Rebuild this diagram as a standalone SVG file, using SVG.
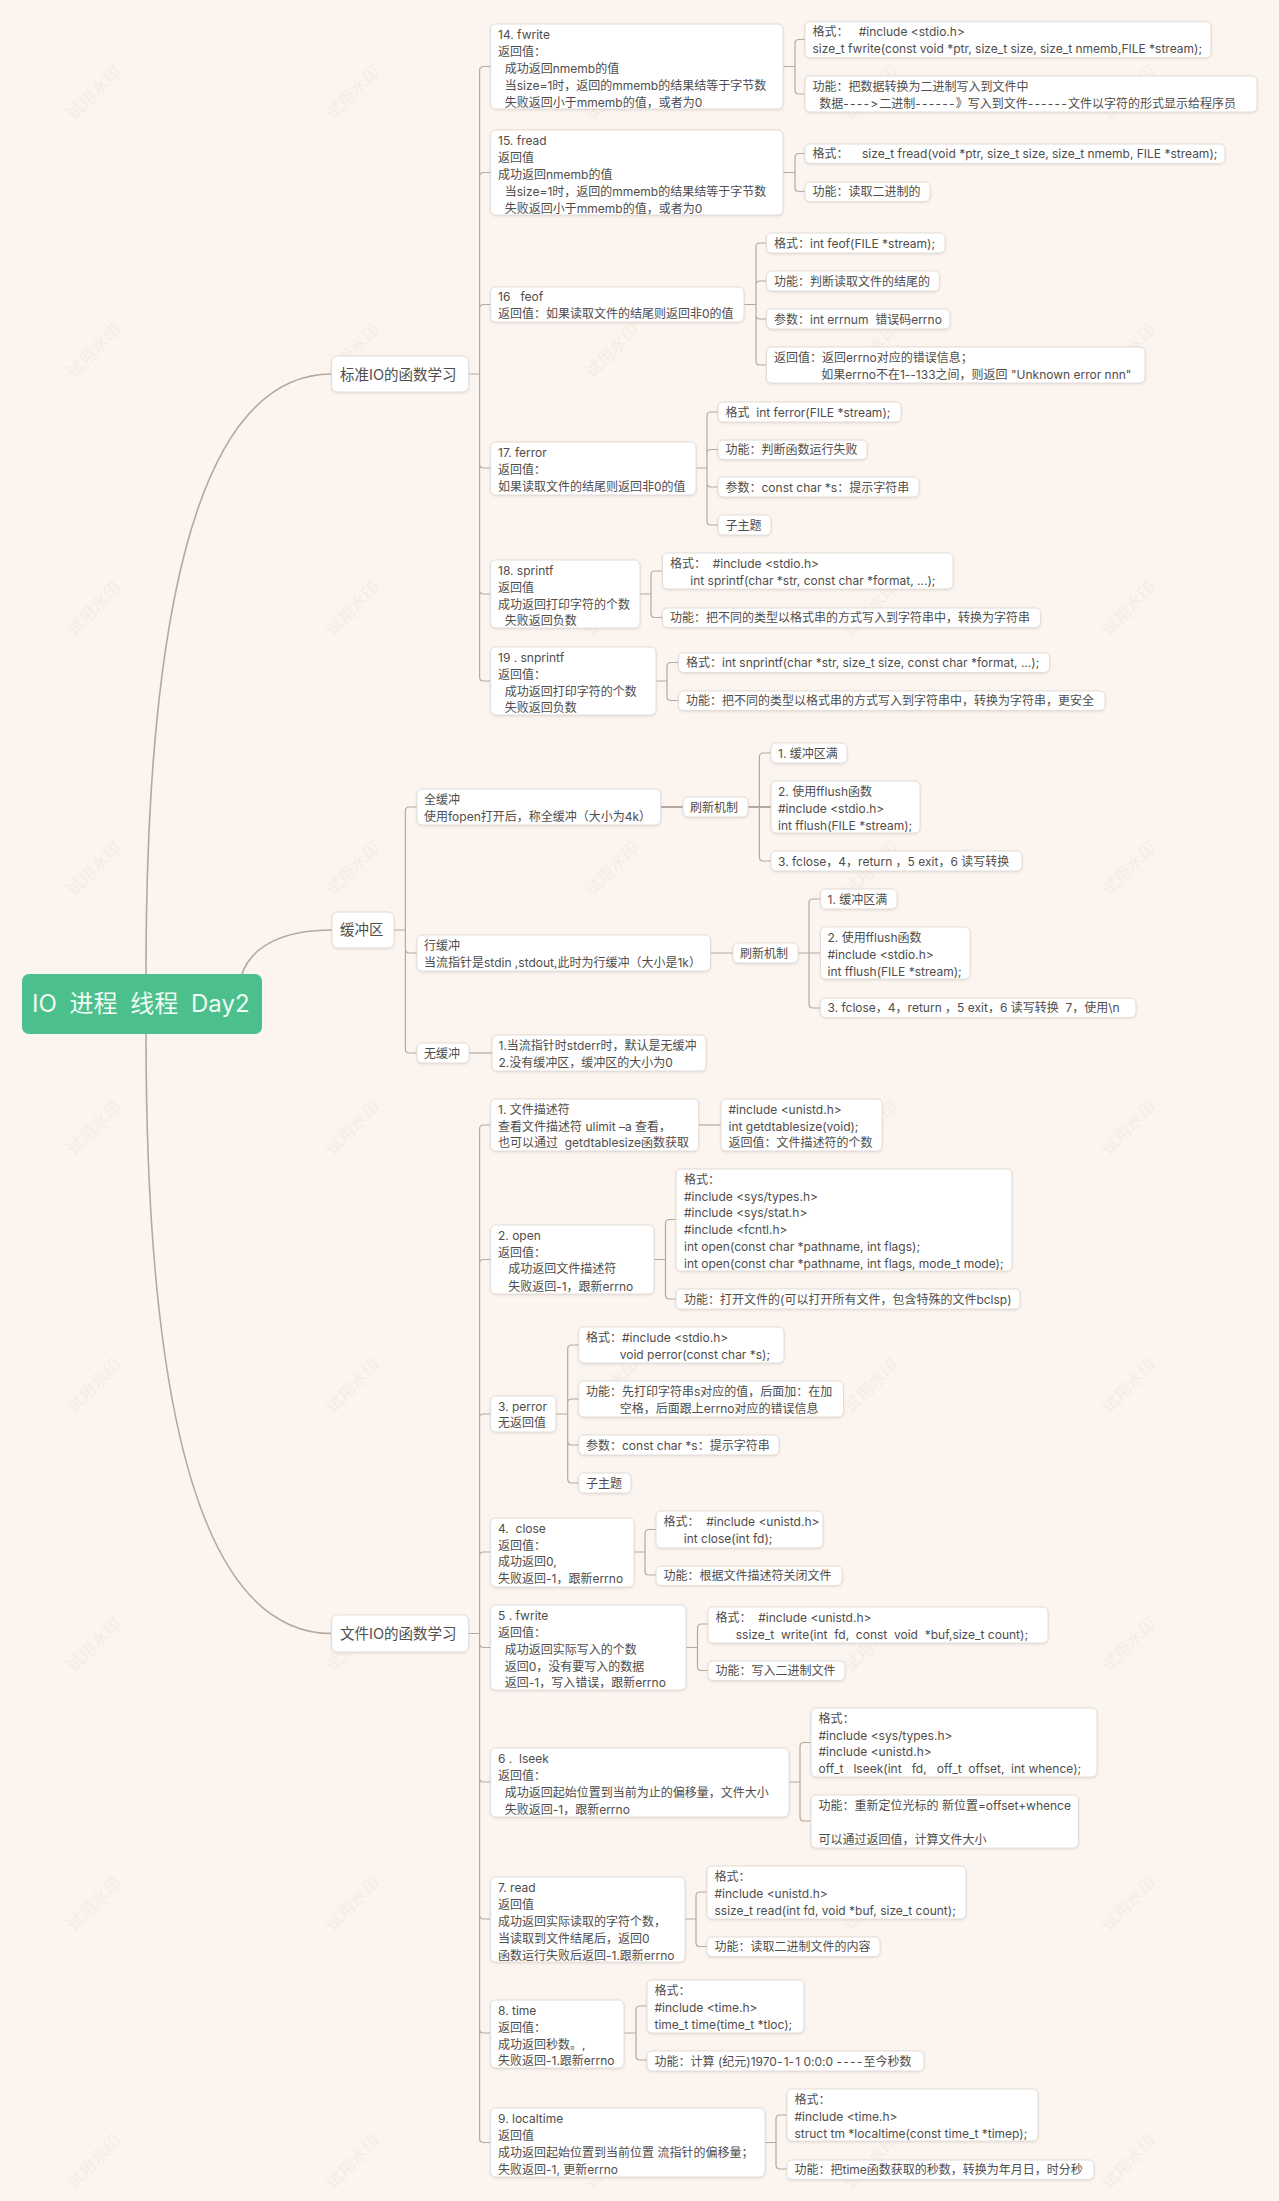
<svg xmlns="http://www.w3.org/2000/svg" width="1279" height="2201" viewBox="0 0 1279 2201">
<style>
text{font-family:Inter,"Noto Sans CJK SC",sans-serif;font-size:12px;fill:#504d4b;white-space:pre;font-variant-ligatures:none;font-feature-settings:"calt" 0,"liga" 0}
.n{fill:#fff;stroke:#e3dcd7;stroke-width:1;filter:drop-shadow(0 1px 1px rgba(90,70,60,.12))}
.t{font-size:14.5px}
.c{fill:none;stroke:#b3a9a2;stroke-width:1.2}
.w{font-size:17px;fill:#f5ece6;text-anchor:middle}
.d{letter-spacing:1.2px}
</style>
<rect width="1279" height="2201" fill="#fbf4ef"/>
<g id="watermarks">
<text class="w" transform="translate(98 97) rotate(-45)">试用水印</text><text class="w" transform="translate(357 97) rotate(-45)">试用水印</text><text class="w" transform="translate(616 97) rotate(-45)">试用水印</text><text class="w" transform="translate(875 97) rotate(-45)">试用水印</text><text class="w" transform="translate(1133 97) rotate(-45)">试用水印</text>
<text class="w" transform="translate(98 355) rotate(-45)">试用水印</text><text class="w" transform="translate(357 355) rotate(-45)">试用水印</text><text class="w" transform="translate(616 355) rotate(-45)">试用水印</text><text class="w" transform="translate(875 355) rotate(-45)">试用水印</text><text class="w" transform="translate(1133 355) rotate(-45)">试用水印</text>
<text class="w" transform="translate(98 613) rotate(-45)">试用水印</text><text class="w" transform="translate(357 613) rotate(-45)">试用水印</text><text class="w" transform="translate(616 613) rotate(-45)">试用水印</text><text class="w" transform="translate(875 613) rotate(-45)">试用水印</text><text class="w" transform="translate(1133 613) rotate(-45)">试用水印</text>
<text class="w" transform="translate(98 873) rotate(-45)">试用水印</text><text class="w" transform="translate(357 873) rotate(-45)">试用水印</text><text class="w" transform="translate(616 873) rotate(-45)">试用水印</text><text class="w" transform="translate(875 873) rotate(-45)">试用水印</text><text class="w" transform="translate(1133 873) rotate(-45)">试用水印</text>
<text class="w" transform="translate(98 1132) rotate(-45)">试用水印</text><text class="w" transform="translate(357 1132) rotate(-45)">试用水印</text><text class="w" transform="translate(616 1132) rotate(-45)">试用水印</text><text class="w" transform="translate(875 1132) rotate(-45)">试用水印</text><text class="w" transform="translate(1133 1132) rotate(-45)">试用水印</text>
<text class="w" transform="translate(98 1390) rotate(-45)">试用水印</text><text class="w" transform="translate(357 1390) rotate(-45)">试用水印</text><text class="w" transform="translate(616 1390) rotate(-45)">试用水印</text><text class="w" transform="translate(875 1390) rotate(-45)">试用水印</text><text class="w" transform="translate(1133 1390) rotate(-45)">试用水印</text>
<text class="w" transform="translate(98 1649) rotate(-45)">试用水印</text><text class="w" transform="translate(357 1649) rotate(-45)">试用水印</text><text class="w" transform="translate(616 1649) rotate(-45)">试用水印</text><text class="w" transform="translate(875 1649) rotate(-45)">试用水印</text><text class="w" transform="translate(1133 1649) rotate(-45)">试用水印</text>
<text class="w" transform="translate(98 1908) rotate(-45)">试用水印</text><text class="w" transform="translate(357 1908) rotate(-45)">试用水印</text><text class="w" transform="translate(616 1908) rotate(-45)">试用水印</text><text class="w" transform="translate(875 1908) rotate(-45)">试用水印</text><text class="w" transform="translate(1133 1908) rotate(-45)">试用水印</text>
<text class="w" transform="translate(98 2166) rotate(-45)">试用水印</text><text class="w" transform="translate(357 2166) rotate(-45)">试用水印</text><text class="w" transform="translate(616 2166) rotate(-45)">试用水印</text><text class="w" transform="translate(875 2166) rotate(-45)">试用水印</text><text class="w" transform="translate(1133 2166) rotate(-45)">试用水印</text>
</g>
<g id="connectors">
<path class="c" style="stroke-width:1.6" d="M146 974C146 640 190 374 332 374M146 1034C146 1370 190 1633.5 332 1633.5M242 974C252 945 285 930 332 930"/>
<path class="c" d="M468.6 374H479.6M479.6 374V70.5Q479.6 66.5 483.6 66.5H490.6M479.6 374V176.5Q479.6 172.5 483.6 172.5H490.6M479.6 374V308.5Q479.6 304.5 483.6 304.5H490.6M479.6 374V464Q479.6 468 483.6 468H490.6M479.6 374V590Q479.6 594 483.6 594H490.6M479.6 374V677Q479.6 681 483.6 681H490.6"/>
<path class="c" d="M783 66.5H795V43.5Q795 39.5 799 39.5H805M795 66.5V90Q795 94 799 94H805"/>
<path class="c" d="M783 172.5H795V157.5Q795 153.5 799 153.5H805M795 172.5V187.5Q795 191.5 799 191.5H805"/>
<path class="c" d="M744 304.5H756V247Q756 243 760 243H766.5M756 304.5V285Q756 281 760 281H766.5M756 304.5V315Q756 319 760 319H766.5M756 304.5V361Q756 365 760 365H766.5"/>
<path class="c" d="M696 468H707V416Q707 412 711 412H718M707 468V453.5Q707 449.5 711 449.5H718M707 468V483Q707 487 711 487H718M707 468V521Q707 525 711 525H718"/>
<path class="c" d="M640 594H651V575Q651 571 655 571H662.5M651 594V613.5Q651 617.5 655 617.5H662.5"/>
<path class="c" d="M656 681H667V666.5Q667 662.5 671 662.5H678.4M667 681V696.5Q667 700.5 671 700.5H678.4"/>
<path class="c" d="M394 930H405.4V811Q405.4 807 409.4 807H417M405.4 930V949Q405.4 953 409.4 953H417M405.4 930V1049Q405.4 1053 409.4 1053H417"/>
<path class="c" style="stroke-width:1.8" d="M660.7 807H683M748 807H771"/>
<path class="c" d="M759.4 807V757Q759.4 753 763.4 753H771M759.4 807V857Q759.4 861 763.4 861H771"/>
<path class="c" d="M710.5 953H733M798 953H820.5"/>
<path class="c" d="M809 953V903Q809 899 813 899H820.5M809 953V1004Q809 1008 813 1008H820.5"/>
<path class="c" d="M469 1053H492"/>
<path class="c" d="M468.6 1633.5H479.6M479.6 1633.5V1129Q479.6 1125 483.6 1125H490.6M479.6 1633.5V1263.5Q479.6 1259.5 483.6 1259.5H490.6M479.6 1633.5V1418Q479.6 1414 483.6 1414H490.6M479.6 1633.5V1556Q479.6 1552 483.6 1552H490.6M479.6 1633.5V1643.5Q479.6 1647.5 483.6 1647.5H490.6M479.6 1633.5V1778Q479.6 1782 483.6 1782H490.6M479.6 1633.5V1915Q479.6 1919 483.6 1919H490.6M479.6 1633.5V2029Q479.6 2033 483.6 2033H490.6M479.6 1633.5V2138.5Q479.6 2142.5 483.6 2142.5H490.6"/>
<path class="c" d="M698.6 1125H721"/>
<path class="c" d="M654 1259.5H665.5V1223.5Q665.5 1219.5 669.5 1219.5H676M665.5 1259.5V1295Q665.5 1299 669.5 1299H676"/>
<path class="c" d="M556 1414H567.7V1349Q567.7 1345 571.7 1345H578.7M567.7 1414V1403Q567.7 1399 571.7 1399H578.7M567.7 1414V1441Q567.7 1445 571.7 1445H578.7M567.7 1414V1479Q567.7 1483 571.7 1483H578.7"/>
<path class="c" d="M634 1552H645V1533.5Q645 1529.5 649 1529.5H656M645 1552V1571Q645 1575 649 1575H656"/>
<path class="c" d="M686 1647.5H697.5V1628Q697.5 1624 701.5 1624H708M697.5 1647.5V1666.5Q697.5 1670.5 701.5 1670.5H708"/>
<path class="c" d="M789 1782H800V1746.5Q800 1742.5 804 1742.5H811M800 1782V1817Q800 1821 804 1821H811"/>
<path class="c" d="M685 1919H696V1896Q696 1892 700 1892H707M696 1919V1942.5Q696 1946.5 700 1946.5H707"/>
<path class="c" d="M624 2033H636V2010Q636 2006 640 2006H647M636 2033V2056Q636 2060 640 2060H647"/>
<path class="c" d="M765 2142.5H776V2119Q776 2115 780 2115H787M776 2142.5V2165Q776 2169 780 2169H787"/>
</g>
<g id="root"><rect x="22" y="974" width="240" height="60" rx="7" fill="#4cc08c"/><text x="32" y="1011.5" style="font-size:24px;fill:#eefbf4;word-spacing:6px">IO 进程 线程 Day2</text></g>
<g id="t1"><rect class="n" x="331.6" y="356" width="137" height="36" rx="6"/><text class="t" x="340" y="379.5">标准IO的函数学习</text></g>
<g id="t2"><rect class="n" x="332" y="912" width="62" height="36" rx="6"/><text class="t" x="340" y="935">缓冲区</text></g>
<g id="t3"><rect class="n" x="331.6" y="1615" width="137" height="37" rx="6"/><text class="t" x="340" y="1639">文件IO的函数学习</text></g>

<g id="n14"><rect class="n" x="490.6" y="24" width="292.4" height="85" rx="5"/><text x="498" y="38.5">14. fwrite</text><text x="498" y="55.5">返回值：</text><text x="498" y="72.5">  成功返回nmemb的值</text><text x="498" y="89.5">  当size=1时，返回的mmemb的结果结等于字节数</text><text x="498" y="106.5">  失败返回小于mmemb的值，或者为0</text></g>
<g id="n14a"><rect class="n" x="805" y="21.7" width="406" height="36" rx="5"/><text x="812.5" y="36">格式：   #include &lt;stdio.h&gt;</text><text x="812.5" y="53">size_t fwrite(const void *ptr, size_t size, size_t nmemb,FILE *stream);</text></g>
<g id="n14b"><rect class="n" x="805" y="76" width="452" height="36" rx="5"/><text x="812.5" y="90.5">功能：把数据转换为二进制写入到文件中</text><text x="812.5" y="107.5">  数据<tspan class="d">----&gt;</tspan>二进制<tspan class="d">------</tspan>》写入到文件<tspan class="d">------</tspan>文件以字符的形式显示给程序员</text></g>
<g id="n15"><rect class="n" x="490.6" y="130" width="292.4" height="85" rx="5"/><text x="498" y="144.5">15. fread</text><text x="498" y="161.5">返回值</text><text x="498" y="178.5">成功返回nmemb的值</text><text x="498" y="195.5">  当size=1时，返回的mmemb的结果结等于字节数</text><text x="498" y="212.5">  失败返回小于mmemb的值，或者为0</text></g>
<g id="n15a"><rect class="n" x="805" y="144" width="420" height="19.5" rx="5"/><text x="812.5" y="158">格式：    size_t fread(void *ptr, size_t size, size_t nmemb, FILE *stream);</text></g>
<g id="n15b"><rect class="n" x="805" y="182" width="125" height="19.5" rx="5"/><text x="812.5" y="196">功能：读取二进制的</text></g>
<g id="n16"><rect class="n" x="490.6" y="287" width="253.4" height="35" rx="5"/><text x="498" y="301">16   feof</text><text x="498" y="318">返回值：如果读取文件的结尾则返回非0的值</text></g>
<g id="n16a"><rect class="n" x="766.5" y="233" width="178.5" height="20" rx="5"/><text x="774" y="247.5">格式：int feof(FILE *stream);</text></g>
<g id="n16b"><rect class="n" x="766.5" y="271" width="173" height="20" rx="5"/><text x="774" y="285.5">功能：判断读取文件的结尾的</text></g>
<g id="n16c"><rect class="n" x="766.5" y="309" width="183.5" height="20" rx="5"/><text x="774" y="323.5">参数：int errnum  错误码errno</text></g>
<g id="n16d"><rect class="n" x="766.5" y="347" width="378.5" height="36" rx="5"/><text x="774" y="361.5">返回值：返回errno对应的错误信息；</text><text x="774" y="378.5">              如果errno不在1--133之间，则返回 "Unknown error nnn"</text></g>
<g id="n17"><rect class="n" x="490.6" y="442" width="205.4" height="53" rx="5"/><text x="498" y="456.5">17. ferror</text><text x="498" y="473.5">返回值：</text><text x="498" y="490.5">如果读取文件的结尾则返回非0的值</text></g>
<g id="n17a"><rect class="n" x="718" y="402" width="183" height="20" rx="5"/><text x="725.5" y="416.5">格式  int ferror(FILE *stream);</text></g>
<g id="n17b"><rect class="n" x="718" y="440" width="149" height="19.5" rx="5"/><text x="725.5" y="454">功能：判断函数运行失败</text></g>
<g id="n17c"><rect class="n" x="718" y="477" width="201" height="20" rx="5"/><text x="725.5" y="491.5">参数：const char *s：提示字符串</text></g>
<g id="n17d"><rect class="n" x="718" y="515" width="53" height="20" rx="5"/><text x="725.5" y="529.5">子主题</text></g>
<g id="n18"><rect class="n" x="490.6" y="560" width="149.4" height="68" rx="5"/><text x="498" y="574.5">18. sprintf</text><text x="498" y="591.5">返回值</text><text x="498" y="608.5">成功返回打印字符的个数</text><text x="498" y="625">  失败返回负数</text></g>
<g id="n18a"><rect class="n" x="662.5" y="553" width="290.5" height="36" rx="5"/><text x="670" y="567.5">格式：  #include &lt;stdio.h&gt;</text><text x="670" y="584.5">      int sprintf(char *str, const char *format, ...);</text></g>
<g id="n18b"><rect class="n" x="662.5" y="608" width="378" height="19.5" rx="5"/><text x="670" y="622">功能：把不同的类型以格式串的方式写入到字符串中，转换为字符串</text></g>
<g id="n19"><rect class="n" x="490.6" y="647" width="165.4" height="68" rx="5"/><text x="498" y="661.5">19 . snprintf</text><text x="498" y="678.5">返回值：</text><text x="498" y="695.5">  成功返回打印字符的个数</text><text x="498" y="712">  失败返回负数</text></g>
<g id="n19a"><rect class="n" x="678.4" y="653" width="371.2" height="19.5" rx="5"/><text x="686" y="667">格式：int snprintf(char *str, size_t size, const char *format, ...);</text></g>
<g id="n19b"><rect class="n" x="678.4" y="691" width="426.6" height="19.5" rx="5"/><text x="686" y="705">功能：把不同的类型以格式串的方式写入到字符串中，转换为字符串，更安全</text></g>

<g id="b1"><rect class="n" x="417" y="789" width="243.7" height="36" rx="5"/><text x="424" y="803.5">全缓冲</text><text x="424" y="820.5">使用fopen打开后，称全缓冲（大小为4k）</text></g>
<g id="b1m"><rect class="n" x="683" y="797" width="65" height="20" rx="5"/><text x="690" y="811.5">刷新机制</text></g>
<g id="b1a"><rect class="n" x="771" y="743" width="76" height="20" rx="5"/><text x="778" y="757.5">1. 缓冲区满</text></g>
<g id="b1b"><rect class="n" x="771" y="781" width="149" height="52" rx="5"/><text x="778" y="795.5">2. 使用fflush函数</text><text x="778" y="812.5">#include &lt;stdio.h&gt;</text><text x="778" y="829.5">int fflush(FILE *stream);</text></g>
<g id="b1c"><rect class="n" x="771" y="851" width="251" height="20" rx="5"/><text x="778" y="865.5">3. fclose，4，return ，5 exit，6 读写转换</text></g>
<g id="b2"><rect class="n" x="417" y="935" width="293.5" height="36" rx="5"/><text x="424" y="949.5">行缓冲</text><text x="424" y="966.5">当流指针是stdin ,stdout,此时为行缓冲（大小是1k）</text></g>
<g id="b2m"><rect class="n" x="733" y="943" width="65" height="20" rx="5"/><text x="740" y="957.5">刷新机制</text></g>
<g id="b2a"><rect class="n" x="820.5" y="889" width="76.5" height="20" rx="5"/><text x="827.5" y="903.5">1. 缓冲区满</text></g>
<g id="b2b"><rect class="n" x="820.5" y="927" width="149.5" height="52" rx="5"/><text x="827.5" y="941.5">2. 使用fflush函数</text><text x="827.5" y="958.5">#include &lt;stdio.h&gt;</text><text x="827.5" y="975.5">int fflush(FILE *stream);</text></g>
<g id="b2c"><rect class="n" x="820.5" y="998" width="315.5" height="19.5" rx="5"/><text x="827.5" y="1012">3. fclose，4，return ，5 exit，6 读写转换  7，使用\n</text></g>
<g id="b3"><rect class="n" x="417" y="1043" width="52" height="20" rx="5"/><text x="424" y="1057.5">无缓冲</text></g>
<g id="b3a"><rect class="n" x="492" y="1035" width="214" height="36" rx="5"/><text x="498.5" y="1049.5">1.当流指针时stderr时，默认是无缓冲</text><text x="498.5" y="1066.5">2.没有缓冲区，缓冲区的大小为0</text></g>

<g id="f1"><rect class="n" x="490.6" y="1099" width="208" height="52" rx="5"/><text x="498" y="1113.5">1. 文件描述符</text><text x="498" y="1130.5">查看文件描述符 ulimit –a 查看，</text><text x="498" y="1147">也可以通过  getdtablesize函数获取</text></g>
<g id="f1a"><rect class="n" x="721" y="1099" width="161" height="52" rx="5"/><text x="728.5" y="1113.5">#include &lt;unistd.h&gt;</text><text x="728.5" y="1130.5">int getdtablesize(void);</text><text x="728.5" y="1147">返回值：文件描述符的个数</text></g>
<g id="f2"><rect class="n" x="490.6" y="1225" width="163.4" height="69" rx="5"/><text x="498" y="1239.5">2. open</text><text x="498" y="1256.5">返回值：</text><text x="498" y="1273">   成功返回文件描述符</text><text x="498" y="1290.5">   失败返回-1，跟新errno</text></g>
<g id="f2a"><rect class="n" x="676" y="1169" width="336" height="102" rx="5"/><text x="684" y="1183.5">格式：</text><text x="684" y="1200.5">#include &lt;sys/types.h&gt;</text><text x="684" y="1217">#include &lt;sys/stat.h&gt;</text><text x="684" y="1234">#include &lt;fcntl.h&gt;</text><text x="684" y="1251">int open(const char *pathname, int flags);</text><text x="684" y="1268">int open(const char *pathname, int flags, mode_t mode);</text></g>
<g id="f2b"><rect class="n" x="676" y="1289" width="344" height="20" rx="5"/><text x="684" y="1303.5">功能：打开文件的(可以打开所有文件，包含特殊的文件bclsp)</text></g>
<g id="f3"><rect class="n" x="490.6" y="1396" width="65.4" height="36" rx="5"/><text x="498" y="1410.5">3. perror</text><text x="498" y="1427">无返回值</text></g>
<g id="f3a"><rect class="n" x="578.7" y="1327" width="205.3" height="36" rx="5"/><text x="586" y="1341.5">格式：#include &lt;stdio.h&gt;</text><text x="586" y="1358.5">          void perror(const char *s);</text></g>
<g id="f3b"><rect class="n" x="578.7" y="1381" width="264.8" height="36" rx="5"/><text x="586" y="1395.5">功能：先打印字符串s对应的值，后面加：在加</text><text x="586" y="1412.5">          空格，后面跟上errno对应的错误信息</text></g>
<g id="f3c"><rect class="n" x="578.7" y="1435" width="200.3" height="20" rx="5"/><text x="586" y="1449.5">参数：const char *s：提示字符串</text></g>
<g id="f3d"><rect class="n" x="578.7" y="1473" width="52.3" height="20" rx="5"/><text x="586" y="1487.5">子主题</text></g>
<g id="f4"><rect class="n" x="490.6" y="1518" width="143.4" height="69" rx="5"/><text x="498" y="1532.5">4.  close</text><text x="498" y="1549.5">返回值：</text><text x="498" y="1566">成功返回0,</text><text x="498" y="1583">失败返回-1，跟新errno</text></g>
<g id="f4a"><rect class="n" x="656" y="1511" width="167" height="37" rx="5"/><text x="663.5" y="1525.5">格式：  #include &lt;unistd.h&gt;</text><text x="663.5" y="1543">      int close(int fd);</text></g>
<g id="f4b"><rect class="n" x="656" y="1566" width="186" height="19.5" rx="5"/><text x="663.5" y="1580">功能：根据文件描述符关闭文件</text></g>
<g id="f5"><rect class="n" x="490.6" y="1605" width="195.4" height="85" rx="5"/><text x="498" y="1619.5">5 . fwrite</text><text x="498" y="1636.5">返回值：</text><text x="498" y="1653.5">  成功返回实际写入的个数</text><text x="498" y="1670.5">  返回0，没有要写入的数据</text><text x="498" y="1687">  返回-1，写入错误，跟新errno</text></g>
<g id="f5a"><rect class="n" x="708" y="1607" width="340" height="36" rx="5"/><text x="715.5" y="1621.5">格式：  #include &lt;unistd.h&gt;</text><text x="715.5" y="1638.5">      ssize_t  write(int  fd,  const  void  *buf,size_t count);</text></g>
<g id="f5b"><rect class="n" x="708" y="1661" width="137" height="19.5" rx="5"/><text x="715.5" y="1675">功能：写入二进制文件</text></g>
<g id="f6"><rect class="n" x="490.6" y="1748" width="298.4" height="69" rx="5"/><text x="498" y="1762.5">6 .  lseek</text><text x="498" y="1779.5">返回值：</text><text x="498" y="1796.5">  成功返回起始位置到当前为止的偏移量，文件大小</text><text x="498" y="1813.5">  失败返回-1，跟新errno</text></g>
<g id="f6a"><rect class="n" x="811" y="1708" width="286" height="69" rx="5"/><text x="818.5" y="1722.5">格式：</text><text x="818.5" y="1739.5">#include &lt;sys/types.h&gt;</text><text x="818.5" y="1756">#include &lt;unistd.h&gt;</text><text x="818.5" y="1773">off_t   lseek(int   fd,   off_t  offset,  int whence);</text></g>
<g id="f6b"><rect class="n" x="811" y="1795" width="267.4" height="53" rx="5"/><text x="818.5" y="1810">功能：重新定位光标的 新位置=offset+whence</text><text x="818.5" y="1844">可以通过返回值，计算文件大小</text></g>
<g id="f7"><rect class="n" x="490.6" y="1877" width="194.4" height="85" rx="5"/><text x="498" y="1891.5">7. read</text><text x="498" y="1908.5">返回值</text><text x="498" y="1925.5">成功返回实际读取的字符个数，</text><text x="498" y="1942.5">当读取到文件结尾后，返回0</text><text x="498" y="1959.5">函数运行失败后返回-1.跟新errno</text></g>
<g id="f7a"><rect class="n" x="707" y="1866" width="259" height="53" rx="5"/><text x="714.5" y="1880.5">格式：</text><text x="714.5" y="1897.5">#include &lt;unistd.h&gt;</text><text x="714.5" y="1914.5">ssize_t read(int fd, void *buf, size_t count);</text></g>
<g id="f7b"><rect class="n" x="707" y="1937" width="173" height="19.5" rx="5"/><text x="714.5" y="1951">功能：读取二进制文件的内容</text></g>
<g id="f8"><rect class="n" x="490.6" y="2000" width="133.4" height="68" rx="5"/><text x="498" y="2014.5">8. time</text><text x="498" y="2031.5">返回值：</text><text x="498" y="2048.5">成功返回秒数。,</text><text x="498" y="2065">失败返回-1.跟新errno</text></g>
<g id="f8a"><rect class="n" x="647" y="1980" width="157" height="53" rx="5"/><text x="654.5" y="1994.5">格式：</text><text x="654.5" y="2011.5">#include &lt;time.h&gt;</text><text x="654.5" y="2028.5">time_t time(time_t *tloc);</text></g>
<g id="f8b"><rect class="n" x="647" y="2051" width="277" height="20" rx="5"/><text x="654.5" y="2065.5">功能：计算 (纪元)1970<tspan class="d">-</tspan>1<tspan class="d">-</tspan>1 0:0:0 <tspan class="d">----</tspan>至今秒数</text></g>
<g id="f9"><rect class="n" x="490.6" y="2108" width="274.4" height="69" rx="5"/><text x="498" y="2122.5">9. localtime</text><text x="498" y="2139.5">返回值</text><text x="498" y="2156.5">成功返回起始位置到当前位置 流指针的偏移量；</text><text x="498" y="2173.5">失败返回-1, 更新errno</text></g>
<g id="f9a"><rect class="n" x="787" y="2089" width="251" height="52" rx="5"/><text x="794.5" y="2103.5">格式：</text><text x="794.5" y="2120.5">#include &lt;time.h&gt;</text><text x="794.5" y="2137.5">struct tm *localtime(const time_t *timep);</text></g>
<g id="f9b"><rect class="n" x="787" y="2160" width="307" height="19.5" rx="5"/><text x="794.5" y="2174">功能：把time函数获取的秒数，转换为年月日，时分秒</text></g>
</svg>
